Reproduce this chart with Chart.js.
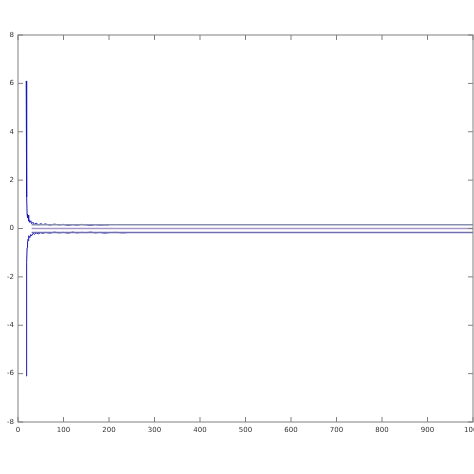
<!DOCTYPE html>
<html>
<head>
<meta charset="utf-8">
<script src="https://cdn.jsdelivr.net/npm/chart.js@4"></script>
<style>
html, body { margin: 0; padding: 0; background: #fff; }
#wrap { width: 474px; height: 474px; }
</style>
</head>
<body>
<div id="wrap"><canvas id="c"></canvas></div>
<script>
// 刻度
const xTicks = [0, 100, 200, 300, 400, 500, 600, 700, 800, 900, 1000];
const yTicks = [-8, -6, -4, -2, 0, 2, 4, 6, 8];

// 上方曲线
const upperX = [18, 19, 20, 21, 22, 23, 24, 26, 28, 30, 33, 36, 40, 45, 50, 55, 60, 70, 80, 90, 100, 110, 120, 130, 140, 150, 160, 170, 180, 190, 200];
const upperY = [6.1, 1.3, 0.6, 0.45, 0.55, 0.3, 0.4, 0.25, 0.32, 0.2, 0.26, 0.17, 0.22, 0.15, 0.2, 0.16, 0.19, 0.14, 0.18, 0.15, 0.17, 0.13, 0.16, 0.14, 0.17, 0.15, 0.13, 0.16, 0.14, 0.15, 0.15];
// 下方曲线
const lowerX = [18, 19, 20, 21, 22, 23, 24, 26, 28, 30, 33, 36, 40, 45, 50, 55, 60, 70, 80, 90, 100, 110, 120, 130, 140, 150, 160, 170, 180, 190, 200, 215, 230, 240];
const lowerY = [-6.1, -1.4, -0.8, -0.6, -0.45, -0.5, -0.3, -0.38, -0.25, -0.3, -0.2, -0.24, -0.18, -0.22, -0.17, -0.2, -0.16, -0.19, -0.15, -0.18, -0.16, -0.19, -0.15, -0.18, -0.16, -0.17, -0.15, -0.18, -0.16, -0.19, -0.17, -0.16, -0.18, -0.17];
// 水平参考线
const refX = [30, 1000];
const refUpper = [0.15, 0.15];
const refMid = [0, 0];
const refLower = [-0.17, -0.17];

function pts(xs, ys) {
    return xs.map((x, i) => ({ x: x, y: ys[i] }));
}

// 边框与内向刻度
const boxPlugin = {
    id: 'box',
    afterDraw(chart) {
        const ctx = chart.ctx;
        const a = chart.chartArea;
        const xs = chart.scales.x, ys = chart.scales.y;
        ctx.save();
        ctx.strokeStyle = '#808080';
        ctx.lineWidth = 1;
        ctx.strokeRect(a.left, a.top, a.right - a.left, a.bottom - a.top);
        ctx.beginPath();
        xTicks.forEach(v => {
            const p = xs.getPixelForValue(v);
            ctx.moveTo(p, a.bottom); ctx.lineTo(p, a.bottom - 5);
            ctx.moveTo(p, a.top); ctx.lineTo(p, a.top + 5);
        });
        yTicks.forEach(v => {
            const p = ys.getPixelForValue(v);
            ctx.moveTo(a.left, p); ctx.lineTo(a.left + 5, p);
            ctx.moveTo(a.right, p); ctx.lineTo(a.right - 5, p);
        });
        ctx.stroke();
        ctx.restore();
    }
};

const line = (data, color, w) => ({
    data: data, borderColor: color, borderWidth: w, pointRadius: 0, fill: false, tension: 0
});

new Chart(document.getElementById('c'), {
    type: 'line',
    data: {
        datasets: [
            line(pts(refX, refUpper), '#8890b0', 1.5),
            line(pts(refX, refMid), '#a898c8', 1.5),
            line(pts(refX, refLower), '#7070b0', 1.5),
            line(pts(upperX, upperY), '#1818b8', 1),
            line(pts(lowerX, lowerY), '#1818b8', 1)
        ]
    },
    options: {
        responsive: true,
        maintainAspectRatio: false,
        animation: false,
        layout: { padding: { top: 35, right: 1, left: 0, bottom: 0 } },
        plugins: { legend: { display: false }, tooltip: { enabled: false } },
        scales: {
            x: {
                type: 'linear', min: 0, max: 1000,
                afterBuildTicks: s => { s.ticks = xTicks.map(v => ({ value: v })); },
                afterFit: s => { s.height = 52; s.paddingLeft = 0; s.paddingRight = 0; },
                grid: { display: false, drawTicks: false },
                border: { display: false },
                ticks: { color: '#333', font: { family: 'DejaVu Sans', size: 7 }, padding: 4, maxRotation: 0, autoSkip: false,
                         callback: v => String(v) }
            },
            y: {
                type: 'linear', min: -8, max: 8,
                afterBuildTicks: s => { s.ticks = yTicks.map(v => ({ value: v })); },
                afterFit: s => { s.width = 18; s.paddingTop = 0; s.paddingBottom = 0; },
                grid: { display: false, drawTicks: false },
                border: { display: false },
                ticks: { color: '#333', font: { family: 'DejaVu Sans', size: 7 }, padding: 4 }
            }
        }
    },
    plugins: [boxPlugin]
});
</script>
</body>
</html>
